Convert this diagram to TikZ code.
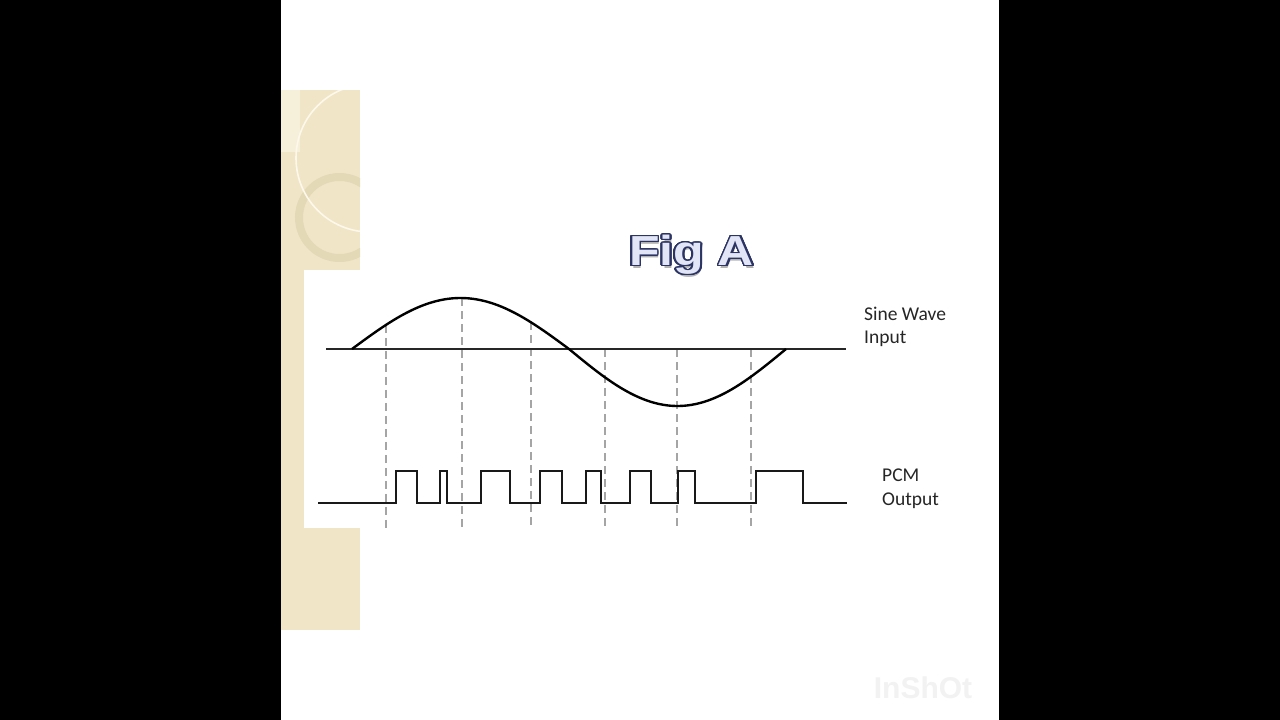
\documentclass[tikz,border=0pt]{standalone}
\usepackage{fontspec}
\setmainfont{Carlito}
\newfontfamily\figfont{Liberation Sans}
\usepackage{contour}
\contourlength{1.4pt}
\contournumber{32}
\definecolor{beige}{RGB}{240,229,198}
\definecolor{beigelight}{RGB}{246,239,218}
\definecolor{ringcol}{RGB}{228,217,182}
\definecolor{arcwhite}{RGB}{252,248,236}
\definecolor{navy}{RGB}{44,52,100}
\definecolor{figfill}{RGB}{226,229,246}
\definecolor{dashgray}{RGB}{165,165,165}
\tikzset{
  axisline/.style={draw=black!85, line width=2.2pt},
  wave/.style={draw=black, line width=2.4pt, line join=round},
  pcm/.style={draw=black!90, line width=2.2pt, line join=miter},
  guide/.style={draw=dashgray, line width=1.6pt, dash pattern=on 8pt off 5pt},
  lbl/.style={font=\fontsize{19.5}{22.6}\selectfont, text=black!85, inner sep=0pt},
}
\begin{document}
\begin{tikzpicture}[x=1pt,y=-1pt]
\useasboundingbox (0,0) rectangle (1280,720);
\fill[black] (0,0) rectangle (1280,720);
\fill[white] (281,0) rectangle (999,720);
% beige side strip
\fill[beige] (281,90) rectangle (360,630);
\begin{scope}
  \clip (281,90) rectangle (360,270);
  \fill[beigelight] (281,90) rectangle (300,152);
  \draw[ringcol, line width=8pt] (339.5,217.5) circle (40.5);
  \draw[arcwhite, line width=1.6pt] (370,158) circle (74);
\end{scope}
\fill[white] (304,270) rectangle (360,528);
% title
\node[font=\figfont\bfseries\fontsize{42}{42}\selectfont, text=black!30, xscale=1.19] (figshadow) at (693,257.5) {Fig A};
\node[font=\figfont\bfseries\fontsize{42}{42}\selectfont, xscale=1.19] (fig) at (691.5,255.5) {\contour{navy}{\textcolor{figfill}{Fig A}}};
% guides
\foreach \gx in {386,462,531} {
  \draw[guide] ({\gx},{349-51*sin((\gx-352)/434*360)}) -- (\gx,528);
}
\foreach \gx in {605,677,751} {
  \draw[guide] (\gx,349) -- (\gx,528);
}
% sine axis
\draw[axisline] (326,349) -- (846,349);
% sine wave
\draw[wave] plot[domain=352:569, samples=80] ({\x},{349-51*sin((\x-352)/434*360)})
  -- plot[domain=569:786, samples=80] ({\x},{349-57*sin((\x-352)/434*360)});
% PCM output
\draw[pcm] (318,503) -- (396,503) -- (396,471) -- (417,471) -- (417,503)
  -- (440,503) -- (440,471) -- (447,471) -- (447,503)
  -- (481,503) -- (481,471) -- (510,471) -- (510,503)
  -- (540,503) -- (540,471) -- (562,471) -- (562,503)
  -- (586,503) -- (586,471) -- (601,471) -- (601,503)
  -- (630,503) -- (630,471) -- (651,471) -- (651,503)
  -- (678,503) -- (678,471) -- (695,471) -- (695,503)
  -- (756,503) -- (756,471) -- (803,471) -- (803,503) -- (847,503);
% labels
\node[lbl, anchor=base west] (sw1) at (864,320.7) {Sine Wave};
\node[lbl, anchor=base west] (sw2) at (864,343.3) {Input};
\node[lbl, anchor=base west] (pc1) at (882,481.7) {PCM};
\node[lbl, anchor=base west] (pc2) at (882,505) {Output};
% watermark
\node[font=\figfont\bfseries\fontsize{30}{30}\selectfont, text=black!5] (wm) at (923,688) {InShOt};
\end{tikzpicture}
\end{document}
